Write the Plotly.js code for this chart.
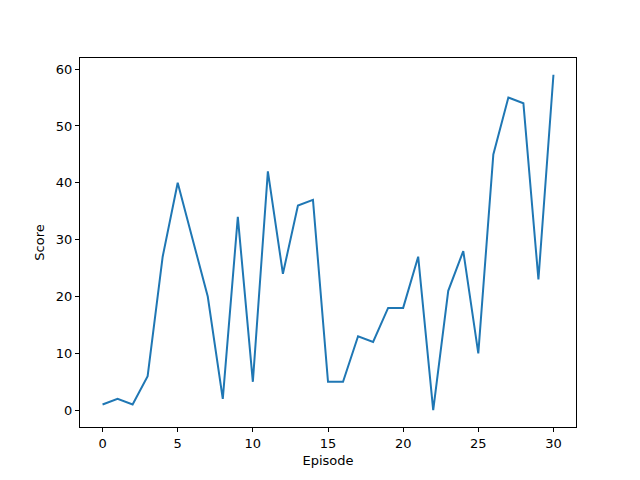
<!DOCTYPE html>
<html>
<head>
<meta charset="utf-8">
<script src="https://cdn.plot.ly/plotly-3.0.1.min.js"></script>
<style>
    html, body { margin: 0; padding: 0; background: #fff; }
    #chart { width: 640px; height: 480px; }
</style>
</head>
<body>
<div id="chart"></div>
<script>
const episodes = [0, 1, 2, 3, 4, 5, 6, 7, 8, 9, 10, 11, 12, 13, 14, 15, 16, 17, 18, 19, 20, 21, 22, 23, 24, 25, 26, 27, 28, 29, 30];
const scores = [1, 2, 1, 6, 27, 40, 30, 20, 2, 34, 5, 42, 24, 36, 37, 5, 5, 13, 12, 18, 18, 27, 0, 21, 28, 10, 45, 55, 54, 23, 59];
const xTicks = [0, 5, 10, 15, 20, 25, 30];
const yTicks = [0, 10, 20, 30, 40, 50, 60];

const axisStyle = {
    showgrid: false,
    zeroline: false,
    showline: true,
    mirror: true,
    linecolor: '#000',
    linewidth: 1,
    ticks: 'outside',
    ticklen: 4,
    tickwidth: 1,
    tickcolor: '#000',
    tickfont: { size: 13, color: '#000' }
};

Plotly.newPlot('chart', [{
    x: episodes,
    y: scores,
    type: 'scatter',
    mode: 'lines',
    line: { color: '#1f77b4', width: 2 },
    hovertemplate: 'Episode %{x}: %{y}<extra></extra>'
}], {
    width: 640,
    height: 480,
    paper_bgcolor: '#fff',
    plot_bgcolor: '#fff',
    font: { family: "'DejaVu Sans', sans-serif", color: '#000' },
    margin: { l: 80, r: 64, t: 58, b: 53 },
    showlegend: false,
    xaxis: Object.assign({}, axisStyle, {
        range: [-1.5, 31.5],
        tickvals: xTicks,
        title: { text: 'Episode', font: { size: 13 }, standoff: 6 }
    }),
    yaxis: Object.assign({}, axisStyle, {
        range: [-2.95, 61.95],
        tickvals: yTicks,
        title: { text: 'Score', font: { size: 13 }, standoff: 8 }
    })
}, { displayModeBar: false, staticPlot: true });
</script>
</body>
</html>
